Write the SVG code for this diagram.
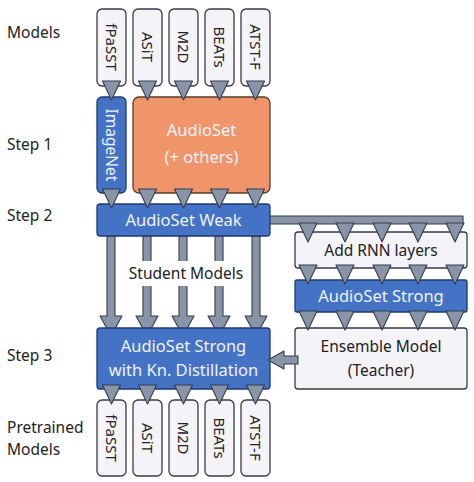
<svg xmlns="http://www.w3.org/2000/svg" width="474" height="482" viewBox="0 0 474 482">
<defs>
<style>
text{font-family:"Noto Sans","Open Sans","Liberation Sans",sans-serif;}
.lbl{font-size:15.5px;fill:#222;}
.light{fill:#f3f3f8;stroke:#3a3a44;stroke-width:1.3;}
.blue{fill:#4472c4;stroke:#1f3a70;stroke-width:1.3;}
.orange{fill:#f0956a;stroke:#5a3a2a;stroke-width:1.3;}
.wt{font-size:15.5px;fill:#eef2fb;text-anchor:middle;}
.big{font-size:16.5px;}
.dt{font-size:15.5px;fill:#222;text-anchor:middle;}
.vt{font-size:15px;fill:#222;text-anchor:middle;}
.arr{fill:#8a94a8;stroke:#333c4c;stroke-width:1.1;stroke-linejoin:round;}
</style>
<path id="tri" d="M-9,0 L9,0 L0,19 Z"/>
</defs>

<g id="left-labels">
<text class="lbl" x="7" y="38">Models</text>
<text class="lbl" x="7" y="150">Step 1</text>
<text class="lbl" x="7" y="221">Step 2</text>
<text class="lbl" x="7" y="361">Step 3</text>
<text class="lbl" x="7" y="433">Pretrained</text>
<text class="lbl" x="7" y="455">Models</text>
</g>

<g id="connectors-back">
<rect class="arr" x="268" y="216" width="195" height="8"/>
<g id="student-arrows">
<path class="arr" d="M107,236 L115,236 L115,316 L122,316 L111,336 L100,316 L107,316 Z"/>
<path class="arr" d="M143,236 L151,236 L151,316 L158,316 L147,336 L136,316 L143,316 Z"/>
<path class="arr" d="M179,236 L187,236 L187,316 L194,316 L183,336 L172,316 L179,316 Z"/>
<path class="arr" d="M215,236 L223,236 L223,316 L230,316 L219,336 L208,316 L215,316 Z"/>
<path class="arr" d="M252,236 L260,236 L260,316 L267,316 L256,336 L245,316 L252,316 Z"/>
</g>
</g>

<g id="top-models">
<g id="m-fpasst"><rect class="light" x="97" y="9" width="29" height="77" rx="5"/><text class="vt" transform="translate(106,47) rotate(90)">fPaSST</text></g>
<g id="m-asit"><rect class="light" x="133" y="9" width="29" height="77" rx="5"/><text class="vt" transform="translate(142,47) rotate(90)">ASiT</text></g>
<g id="m-m2d"><rect class="light" x="169" y="9" width="29" height="77" rx="5"/><text class="vt" transform="translate(178,47) rotate(90)">M2D</text></g>
<g id="m-beats"><rect class="light" x="205" y="9" width="29" height="77" rx="5"/><text class="vt" transform="translate(214,47) rotate(90)">BEATs</text></g>
<g id="m-atst"><rect class="light" x="241" y="9" width="29" height="77" rx="5"/><text class="vt" transform="translate(250,47) rotate(90)">ATST-F</text></g>
</g>

<g id="imagenet"><rect class="blue" x="97" y="97" width="29" height="96" rx="5"/><text class="wt" transform="translate(106,145) rotate(90)">ImageNet</text></g>
<g id="audioset"><rect class="orange" x="133" y="97" width="137" height="96" rx="6"/><text class="wt big" x="201.5" y="136">AudioSet</text><text class="wt big" x="201.5" y="163">(+ others)</text></g>

<g id="weak"><rect class="blue" x="97" y="204" width="173" height="32" rx="3"/><text class="wt big" x="183.5" y="226">AudioSet Weak</text></g>

<g id="student-label"><rect x="124" y="261" width="124" height="25" fill="#ffffff"/><text class="dt big" x="186" y="279">Student Models</text></g>

<g id="rnn"><rect class="light" x="295" y="232" width="172" height="36" rx="3"/><text class="dt big" x="381" y="256">Add RNN layers</text></g>
<g id="strong"><rect class="blue" x="295" y="280" width="172" height="32" rx="2"/><text class="wt big" x="381" y="302">AudioSet Strong</text></g>
<g id="ensemble"><rect class="light" x="295" y="328" width="172" height="61" rx="3"/><text class="dt big" x="381" y="352">Ensemble Model</text><text class="dt big" x="381" y="376">(Teacher)</text></g>

<g id="step3"><rect class="blue" x="97" y="328" width="173" height="61" rx="3"/><text class="wt big" x="183.5" y="352">AudioSet Strong</text><text class="wt big" x="183.5" y="376">with Kn. Distillation</text></g>

<g id="bottom-models">
<g id="p-fpasst"><rect class="light" x="97" y="400" width="29" height="76" rx="5"/><text class="vt" transform="translate(106,438) rotate(90)">fPaSST</text></g>
<g id="p-asit"><rect class="light" x="133" y="400" width="29" height="76" rx="5"/><text class="vt" transform="translate(142,438) rotate(90)">ASiT</text></g>
<g id="p-m2d"><rect class="light" x="169" y="400" width="29" height="76" rx="5"/><text class="vt" transform="translate(178,438) rotate(90)">M2D</text></g>
<g id="p-beats"><rect class="light" x="205" y="400" width="29" height="76" rx="5"/><text class="vt" transform="translate(214,438) rotate(90)">BEATs</text></g>
<g id="p-atst"><rect class="light" x="241" y="400" width="29" height="76" rx="5"/><text class="vt" transform="translate(250,438) rotate(90)">ATST-F</text></g>
</g>

<g id="connectors">
<use href="#tri" class="arr" x="111.5" y="81"/>
<use href="#tri" class="arr" x="147.5" y="81"/>
<use href="#tri" class="arr" x="183.5" y="81"/>
<use href="#tri" class="arr" x="219.5" y="81"/>
<use href="#tri" class="arr" x="255.5" y="81"/>

<use href="#tri" class="arr" x="111.5" y="189"/>
<use href="#tri" class="arr" x="147.5" y="189"/>
<use href="#tri" class="arr" x="183.5" y="189"/>
<use href="#tri" class="arr" x="219.5" y="189"/>
<use href="#tri" class="arr" x="255.5" y="189"/>

<use href="#tri" class="arr" x="308" y="223"/>
<use href="#tri" class="arr" x="345" y="223"/>
<use href="#tri" class="arr" x="382" y="223"/>
<use href="#tri" class="arr" x="418" y="223"/>
<use href="#tri" class="arr" x="455" y="223"/>

<use href="#tri" class="arr" x="308" y="265"/>
<use href="#tri" class="arr" x="345" y="265"/>
<use href="#tri" class="arr" x="382" y="265"/>
<use href="#tri" class="arr" x="418" y="265"/>
<use href="#tri" class="arr" x="455" y="265"/>

<use href="#tri" class="arr" x="308" y="311"/>
<use href="#tri" class="arr" x="345" y="311"/>
<use href="#tri" class="arr" x="382" y="311"/>
<use href="#tri" class="arr" x="418" y="311"/>
<use href="#tri" class="arr" x="455" y="311"/>

<use href="#tri" class="arr" x="111.5" y="385"/>
<use href="#tri" class="arr" x="147.5" y="385"/>
<use href="#tri" class="arr" x="183.5" y="385"/>
<use href="#tri" class="arr" x="219.5" y="385"/>
<use href="#tri" class="arr" x="255.5" y="385"/>

<path class="arr" d="M298,356 L284,356 L284,351 L268,360 L284,369 L284,364 L298,364 Z"/>
</g>
</svg>
